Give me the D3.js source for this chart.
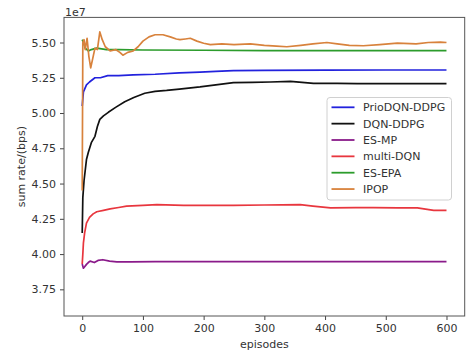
<!DOCTYPE html>
<html><head><meta charset="utf-8">
<script src="https://cdn.jsdelivr.net/npm/d3@7"></script>
<style>body{margin:0;background:#fff}svg{display:block}text{font-family:"DejaVu Sans",sans-serif}</style>
</head><body>
<svg id="c" width="474" height="359"></svg>
<script>
const seriesNames = ["PrioDQN-DDPG","DQN-DDPG","ES-MP","multi-DQN","ES-EPA","IPOP"];
const seriesColors = ["#2222dd","#111111","#8a1a8a","#e8363e","#2c9c2c","#d8823c"];
const xTicks = [0,100,200,300,400,500,600];
const yTicks = [3.75,4.00,4.25,4.50,4.75,5.00,5.25,5.50];

const prioEp = [0,1,2,4,7,12,21,30,42,60,84,120,160,194,220,249,300,400,500,600];
const prioVal = [5.05,5.10,5.15,5.17,5.20,5.22,5.25,5.25,5.265,5.265,5.27,5.275,5.285,5.29,5.295,5.30,5.302,5.304,5.305,5.305];

const dqnEp = [0,1,3,7,10,15,21,25,29,35,43,55,70,85,103,120,139,160,194,220,249,280,310,343,381,420,453,500,550,600];
const dqnVal = [4.15,4.40,4.52,4.67,4.72,4.79,4.835,4.905,4.955,4.98,5.005,5.04,5.08,5.11,5.14,5.153,5.16,5.17,5.185,5.20,5.215,5.218,5.22,5.224,5.21,5.21,5.208,5.208,5.208,5.208];

const esmpEp = [0,2,4,7,10,13,20,26,34,45,57,80,120,200,300,400,500,600];
const esmpVal = [3.93,3.90,3.91,3.927,3.94,3.95,3.94,3.955,3.96,3.95,3.945,3.945,3.947,3.946,3.946,3.947,3.947,3.947];

const mdqnEp = [0,1,2,4,7,12,18,24,35,46,60,73,100,123,167,200,249,300,359,380,409,450,480,520,552,579,600];
const mdqnVal = [3.93,4.00,4.08,4.15,4.22,4.26,4.285,4.30,4.31,4.32,4.33,4.34,4.345,4.35,4.345,4.345,4.345,4.348,4.35,4.34,4.328,4.33,4.33,4.328,4.328,4.31,4.31];

const esepaEp = [0,2,5,10,15,24,40,60,100,200,300,400,500,600];
const esepaVal = [5.52,5.50,5.46,5.44,5.45,5.46,5.45,5.45,5.447,5.445,5.443,5.443,5.443,5.442];

const ipopEp = [0,1,3,5,8,11,14,18,21,25,29,33,38,46,55,62,67,75,84,92,100,110,120,133,145,155,161,170,178,189,200,211,230,250,277,300,320,337,360,380,403,420,440,463,490,519,550,570,590,600];
const ipopVal = [4.45,5.50,5.52,5.45,5.53,5.40,5.32,5.40,5.46,5.45,5.575,5.52,5.47,5.44,5.45,5.43,5.41,5.43,5.44,5.47,5.51,5.54,5.555,5.555,5.54,5.525,5.52,5.525,5.53,5.51,5.495,5.485,5.49,5.485,5.49,5.48,5.475,5.47,5.48,5.49,5.50,5.49,5.48,5.477,5.485,5.496,5.49,5.50,5.503,5.50];

const seriesEp = [prioEp,dqnEp,esmpEp,mdqnEp,esepaEp,ipopEp];
const seriesVal = [prioVal,dqnVal,esmpVal,mdqnVal,esepaVal,ipopVal];

const L=64, R=464.7, T=17.4, B=316;
const x = d3.scaleLinear().domain([-30,630]).range([L,R]);
const y = d3.scaleLinear().domain([3.561,5.678]).range([B,T]);
const svg = d3.select("#c");
const FS = "11px";

const line = d3.line().x(d=>x(d[0])).y(d=>y(d[1]));
const drawOrder = [3,2,1,0,4,5];
drawOrder.forEach(i=>{
  const pts = seriesEp[i].map((e,k)=>[e,seriesVal[i][k]]);
  svg.append("path").attr("d",line(pts)).attr("fill","none")
    .attr("stroke",seriesColors[i]).attr("stroke-width",1.7).attr("stroke-linejoin","round");
});

const xa = svg.append("g").attr("transform",`translate(0,${B})`)
  .call(d3.axisBottom(x).tickValues(xTicks).tickSize(4).tickPadding(4).tickFormat(d3.format("d")));
const ya = svg.append("g").attr("transform",`translate(${L},0)`)
  .call(d3.axisLeft(y).tickValues(yTicks).tickSize(4).tickPadding(4).tickFormat(d3.format(".2f")));
[xa,ya].forEach(a=>{
  a.select(".domain").remove();
  a.selectAll("line").attr("stroke","#444");
  a.selectAll("text").attr("fill","#333").style("font-size",FS).style("font-family","DejaVu Sans");
});
svg.append("rect").attr("x",L).attr("y",T).attr("width",R-L).attr("height",B-T)
  .attr("fill","none").attr("stroke","#555").attr("stroke-width",1);

svg.append("text").attr("x",L+1).attr("y",15.5).text("1e7").attr("fill","#333").style("font-size",FS);
svg.append("text").attr("x",(L+R)/2).attr("y",348).attr("text-anchor","middle").text("episodes")
  .attr("fill","#333").style("font-size",FS);
svg.append("text").attr("transform",`translate(25,${(T+B)/2}) rotate(-90)`).attr("text-anchor","middle")
  .text("sum rate/(bps)").attr("fill","#333").style("font-size",FS);

const lg = svg.append("g");
lg.append("rect").attr("x",327).attr("y",97.5).attr("width",124.5).attr("height",102.5).attr("rx",3)
  .attr("fill","#fff").attr("fill-opacity",0.85).attr("stroke","#d0d0d0");
seriesNames.forEach((n,i)=>{
  const yy = 107.3 + i*16.35;
  lg.append("line").attr("x1",331.5).attr("x2",354.5).attr("y1",yy).attr("y2",yy)
    .attr("stroke",seriesColors[i]).attr("stroke-width",1.8);
  lg.append("text").attr("x",363).attr("y",yy+4).text(n).attr("fill","#333").style("font-size",FS);
});
</script>
</body></html>
